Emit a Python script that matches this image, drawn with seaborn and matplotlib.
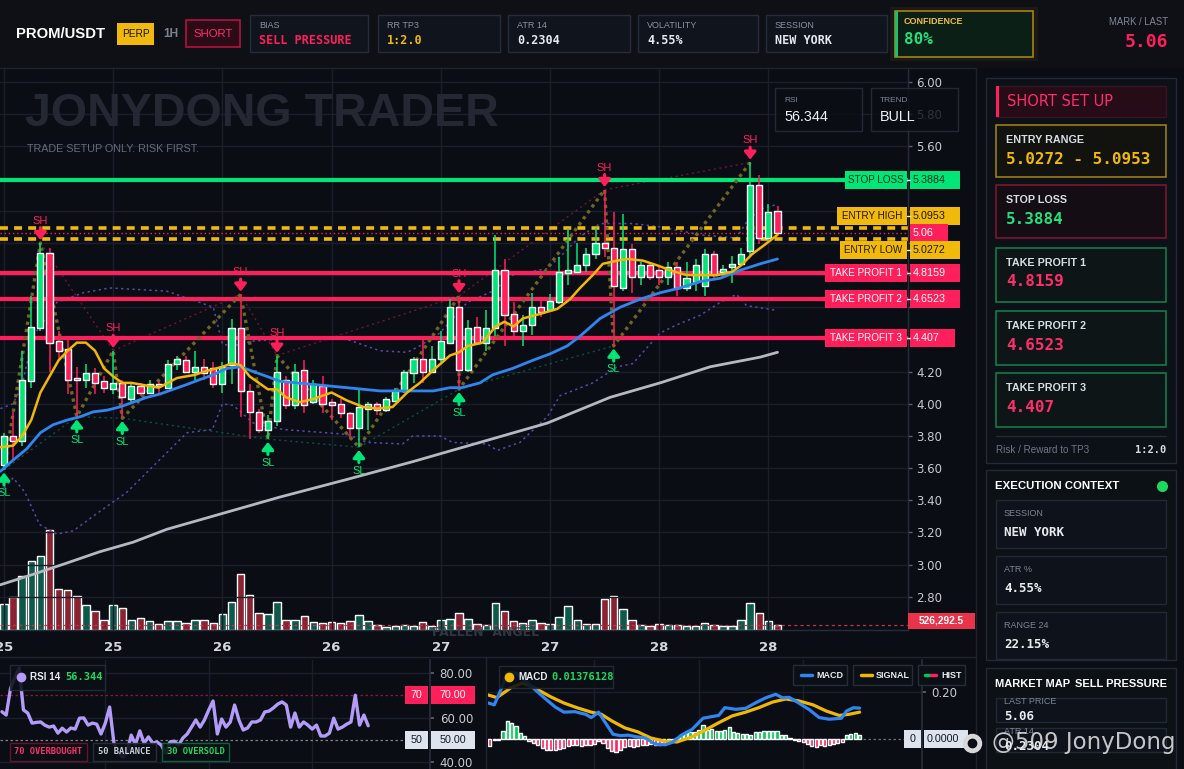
import matplotlib
matplotlib.use("Agg")
import matplotlib.pyplot as plt
from matplotlib import font_manager
from matplotlib.lines import Line2D
from matplotlib.patches import Rectangle
import numpy as np
import pandas as pd
import seaborn as sns

# ---------------- candles (1H) ----------------
opens = [3.62, 3.80, 3.77, 4.14, 4.47, 4.94, 4.39, 4.34, 4.16, 4.15,
         4.19, 4.14, 4.09, 4.13, 4.03, 4.11, 4.07, 4.12, 4.10, 4.25,
         4.27, 4.20, 4.23, 4.22, 4.12, 4.24, 4.47, 4.08, 3.95, 3.84,
         3.89, 4.15, 3.99, 4.21, 4.01, 4.11, 4.01, 4.00, 3.94, 3.85,
         3.97, 4.00, 3.96, 4.02, 4.08, 4.19, 4.28, 4.20, 4.28, 4.38,
         4.60, 4.21, 4.48, 4.38, 4.47, 4.83, 4.56, 4.45, 4.49, 4.60,
         4.58, 4.63, 4.81, 4.82, 4.86, 4.93, 5.00, 4.97, 4.72, 4.96,
         4.79, 4.86, 4.83, 4.79, 4.85, 4.72, 4.76, 4.73, 4.93, 4.82,
         4.85, 4.87, 4.95, 5.36, 5.03, 5.20]
highs = [3.82, 3.95, 4.33, 4.67, 5.00, 4.97, 4.45, 4.40, 4.23, 4.25,
         4.22, 4.17, 4.33, 4.15, 4.13, 4.13, 4.15, 4.14, 4.27, 4.30,
         4.30, 4.33, 4.28, 4.26, 4.26, 4.53, 4.68, 4.12, 3.97, 3.93,
         4.30, 4.17, 4.25, 4.27, 4.15, 4.17, 4.03, 4.03, 3.95, 4.10,
         4.01, 4.01, 4.04, 4.10, 4.21, 4.29, 4.40, 4.36, 4.45, 4.65,
         4.67, 4.52, 4.54, 4.58, 5.05, 4.90, 4.63, 4.55, 4.69, 4.65,
         4.68, 4.91, 5.09, 5.00, 4.97, 5.10, 5.33, 5.19, 5.18, 4.99,
         4.88, 4.88, 4.85, 4.88, 4.88, 4.88, 4.90, 4.96, 4.95, 4.86,
         4.92, 4.97, 5.50, 5.42, 5.24, 5.23]
lows = [3.59, 3.65, 3.74, 4.10, 4.45, 4.20, 4.28, 4.06, 3.92, 4.10,
        4.06, 4.07, 4.06, 3.91, 4.00, 4.05, 4.06, 4.06, 4.09, 4.21,
        4.19, 4.15, 4.15, 4.10, 4.07, 4.12, 3.92, 3.78, 3.82, 3.78,
        3.86, 3.97, 3.97, 3.94, 4.00, 3.94, 3.90, 3.91, 3.79, 3.73,
        3.84, 3.93, 3.95, 4.01, 4.07, 4.13, 4.13, 4.19, 4.26, 4.37,
        4.09, 4.20, 4.37, 4.33, 4.42, 4.36, 4.42, 4.36, 4.43, 4.54,
        4.57, 4.62, 4.74, 4.81, 4.82, 4.90, 4.91, 4.36, 4.70, 4.69,
        4.74, 4.77, 4.74, 4.74, 4.67, 4.70, 4.70, 4.67, 4.78, 4.78,
        4.75, 4.86, 4.92, 4.99, 5.02, 5.05]
closes = [3.80, 3.77, 4.15, 4.48, 4.94, 4.38, 4.33, 4.15, 4.15, 4.19,
          4.13, 4.10, 4.13, 4.04, 4.11, 4.07, 4.12, 4.11, 4.25, 4.28,
          4.20, 4.23, 4.19, 4.12, 4.23, 4.47, 4.08, 3.95, 3.84, 3.89,
          4.20, 3.99, 4.20, 3.99, 4.12, 4.00, 3.99, 3.94, 3.85, 3.98,
          4.00, 3.96, 4.03, 4.08, 4.20, 4.28, 4.20, 4.28, 4.39, 4.60,
          4.21, 4.47, 4.38, 4.47, 4.83, 4.55, 4.45, 4.49, 4.60, 4.57,
          4.64, 4.82, 4.83, 4.86, 4.93, 5.00, 4.97, 4.73, 4.96, 4.79,
          4.86, 4.79, 4.79, 4.85, 4.72, 4.78, 4.86, 4.93, 4.80, 4.84,
          4.87, 4.93, 5.36, 5.03, 5.19, 5.06]
volumes = [2730, 3465, 5670, 7245, 7770, 10500, 4305, 4200, 3570, 2625,
           1995, 1050, 2625, 2310, 1050, 1260, 945, 630, 945, 945,
           735, 1050, 1050, 735, 1680, 2940, 5880, 3675, 1785, 1680,
           2940, 1050, 1050, 1470, 840, 735, 840, 735, 945, 1575,
           945, 525, 315, 420, 525, 420, 840, 420, 1050, 1155,
           1785, 1155, 630, 525, 2835, 1995, 945, 735, 1050, 735,
           630, 1365, 2520, 1050, 630, 630, 3255, 3570, 2205, 1050,
           525, 420, 630, 525, 525, 420, 420, 735, 525, 420,
           420, 1050, 2835, 1785, 945, 526.2925]  # thousands

date_tick_idx = [0, 12, 24, 36, 48, 60, 72, 84]
date_tick_labels = ["25", "25", "26", "26", "27", "27", "28", "28"]

swing_high_idx = [4, 12, 26, 30, 50, 66, 82]
swing_low_idx = [0, 8, 13, 29, 39, 50, 67]

# moving averages / bands, read at sample points (candle index, price)
ema_fast_idx = [-0.4, 1, 2, 3, 4, 5, 6, 7, 8, 9, 10, 11, 12, 13, 14, 16, 17, 18, 19, 21,
                22, 24, 25, 26, 27, 29, 30, 31, 32.5, 34, 36, 37.7, 39.5, 41, 42.7, 44.3, 45.7, 47, 49, 50,
                51, 52.6, 54, 55, 56, 57, 59, 60.8, 62.2, 63.3, 64.7, 65.8, 67.4, 68.5, 70.2, 71.8, 73.2, 75,
                76.8, 78.4, 80, 81, 82.2, 83.4, 85]
ema_fast = [3.73, 3.74, 3.80, 3.90, 4.07, 4.17, 4.27, 4.33, 4.38, 4.38, 4.33, 4.22, 4.17, 4.13, 4.13,
            4.11, 4.10, 4.13, 4.16, 4.18, 4.20, 4.23, 4.25, 4.24, 4.17, 4.09, 4.09, 4.04, 4.01, 4.03,
            4.07, 4.02, 3.98, 3.97, 3.98, 4.07, 4.13, 4.20, 4.30, 4.32, 4.36, 4.38, 4.48, 4.51, 4.48,
            4.53, 4.56, 4.59, 4.65, 4.72, 4.80, 4.87, 4.89, 4.90, 4.89, 4.86, 4.83, 4.80, 4.80, 4.80,
            4.82, 4.86, 4.93, 4.98, 5.05]
ema_slow_idx = [-0.4, 1, 2.5, 4, 5.4, 7, 8.4, 9.8, 11.3, 12.7, 14.2, 15.7, 17.1, 18.6, 20.1, 21.5,
                23, 24.5, 26, 27.4, 28.9, 30.3, 34, 37.7, 41.3, 47.2, 49, 50.3, 52.3, 53.7, 55.9, 58.1,
                60, 61.9, 63.3, 65.5, 67.7, 69.9, 72.1, 74.3, 76.5, 78.7, 80.9, 83.1, 85]
ema_slow = [3.58, 3.65, 3.72, 3.82, 3.87, 3.90, 3.92, 3.95, 3.96, 3.98, 4.01, 4.04, 4.06, 4.09, 4.12,
            4.15, 4.18, 4.22, 4.23, 4.20, 4.17, 4.14, 4.12, 4.10, 4.08, 4.08, 4.10, 4.10, 4.13, 4.18,
            4.22, 4.27, 4.31, 4.36, 4.42, 4.53, 4.60, 4.65, 4.69, 4.72, 4.76, 4.78, 4.83, 4.87, 4.90]
sma_idx = [-0.4, 3.2, 6.9, 10.5, 14.2, 17.9, 30.3, 37.7, 44.9, 52.3, 59.7, 66.6, 72.1, 77.6, 83.1, 85]
sma_slow = [2.875, 2.94, 3.01, 3.08, 3.14, 3.22, 3.42, 3.53, 3.64, 3.76, 3.88, 4.04, 4.13, 4.23, 4.29, 4.32]
upper_idx = [-0.4, 1, 2, 3.2, 5.8, 8.7, 11.6, 17.9, 21.5, 23, 24, 25.2, 27.4, 32.5, 37.7, 41.3, 44.3,
             45.7, 47.9, 50.9, 53.7, 55.9, 59.7, 61.4, 63.3, 65.5, 69.1, 72.1, 76.5, 80.5, 81.6, 83.1, 85]
upper_band = [3.97, 4.00, 4.12, 4.42, 4.63, 4.69, 4.72, 4.70, 4.63, 4.60, 4.37, 4.36, 4.39, 4.41, 4.40,
              4.33, 4.32, 4.36, 4.44, 4.63, 4.70, 4.80, 4.84, 4.93, 5.04, 5.12, 5.12, 5.10, 5.05, 5.03,
              5.13, 5.21, 5.24]
lower_idx = [-0.4, 1, 2.3, 3.9, 5.8, 7.6, 10.5, 13.5, 20.1, 22.9, 24, 25.2, 27.4, 30.7, 37.7, 39.9,
             43.8, 44.9, 47.9, 49.3, 53.1, 54.2, 56.7, 59.7, 61.1, 64.7, 67.4, 69.1, 72.1, 73.9, 76.5,
             78.7, 80.5, 81.6, 85]
lower_band = [3.45, 3.54, 3.45, 3.25, 3.19, 3.21, 3.33, 3.45, 3.82, 3.84, 4.00, 3.99, 3.88, 3.84, 3.81,
              3.76, 3.75, 3.80, 3.80, 3.76, 3.75, 3.71, 3.76, 3.92, 4.05, 4.13, 4.23, 4.25, 4.44, 4.49,
              4.55, 4.63, 4.68, 4.61, 4.58]

# trade levels
stop_loss = 5.3884
entry_high = 5.0953
entry_low = 5.0272
last_price = 5.06
take_profits = [4.8159, 4.6523, 4.407]

# RSI 14
rsi_values = [62.6, 61.1, 73.0, 77.8, 82.2, 63.4, 62.0, 57.5, 57.8, 58.0,
              56.5, 55.7, 56.2, 53.0, 55.2, 53.5, 55.3, 54.8, 59.7, 59.8,
              56.6, 57.5, 57.0, 52.6, 57.5, 64.7, 48.5, 44.5, 42.2, 44.0,
              52.1, 48.0, 54.0, 48.5, 51.3, 48.5, 49.0, 47.6, 44.0, 49.0,
              49.4, 47.6, 50.8, 52.6, 55.7, 58.9, 55.7, 58.9, 63.4, 67.4,
              52.6, 59.3, 55.7, 58.0, 65.6, 58.9, 54.4, 55.3, 58.0, 58.0,
              58.9, 62.5, 62.9, 64.3, 66.0, 67.0, 65.6, 55.7, 62.0, 55.7,
              58.0, 56.6, 54.8, 56.6, 51.7, 51.7, 53.0, 59.7, 54.8, 55.7,
              57.0, 58.0, 70.0, 56.6, 61.1, 56.3]

# MACD
macd_idx = [-0.4, 1, 3, 4, 6, 8, 10, 12.5, 15, 17, 19.5, 22, 23.3, 25, 26.4, 28.3, 30, 31.8, 33.7, 35.7,
            38, 40.3, 42, 44, 46.5, 49, 50.7, 52.6, 54, 56.5, 58.8, 61, 63.4, 65.7, 67.3, 68.8, 71, 73.4,
            75.7, 78, 80.8, 82, 83.6, 85]
macd_line = [0.153, 0.145, 0.23, 0.28, 0.28, 0.25, 0.216, 0.175, 0.136, 0.114, 0.116, 0.105, 0.091,
             0.114, 0.073, 0.020, 0.014, 0.016, 0.009, 0.004, -0.022, -0.025, -0.014, 0.016, 0.041,
             0.088, 0.094, 0.100, 0.133, 0.126, 0.130, 0.153, 0.175, 0.19, 0.175, 0.177, 0.153, 0.125,
             0.091, 0.084, 0.088, 0.119, 0.133, 0.131]
signal_idx = [-0.4, 1.6, 5, 7.5, 10, 14, 17, 20, 23.3, 25.6, 28, 31, 34, 37, 40, 43, 46.5, 49.5, 52.5,
              55.7, 58.8, 61.8, 65, 68, 71, 74.3, 77.3, 80.3, 82.6, 85]
signal_line = [0.187, 0.176, 0.22, 0.238, 0.22, 0.179, 0.153, 0.133, 0.114, 0.105, 0.077, 0.047, 0.030,
               0.004, -0.009, -0.013, 0.009, 0.038, 0.068, 0.098, 0.114, 0.133, 0.157, 0.17, 0.162,
               0.145, 0.119, 0.10, 0.105, 0.114]
hist_values = [-0.031, -0.005, -0.004, 0.033, 0.078, 0.068, 0.054, 0.026, 0.011, -0.007,
               -0.017, -0.024, -0.038, -0.045, -0.045, -0.045, -0.041, -0.038, -0.031, -0.027,
               -0.024, -0.031, -0.024, -0.027, -0.021, -0.007, -0.017, -0.038, -0.052, -0.055,
               -0.045, -0.035, -0.031, -0.035, -0.031, -0.027, -0.024, -0.021, -0.027, -0.027,
               -0.017, -0.013, -0.007, 0.004, 0.016, 0.026, 0.030, 0.030, 0.040, 0.058,
               0.040, 0.044, 0.035, 0.035, 0.040, 0.050, 0.030, 0.024, 0.021, 0.021,
               0.018, 0.028, 0.028, 0.033, 0.035, 0.035, 0.035, 0.016, 0.016, 0.004,
               -0.003, -0.007, -0.013, -0.021, -0.031, -0.035, -0.027, -0.031, -0.024, -0.021,
               -0.017, -0.013, 0.018, 0.021, 0.026, 0.016]

# ---------------- style ----------------
W, H = 1184, 769
BG = "#0a0d14"
HEAD_BG = "#0e1016"
GRID = "#1a202b"
EDGE = "#232a36"
GREEN = "#00e676"
RED = "#ff1f5a"
GOLD = "#f0b90b"
BLUE = "#2f86f0"
LAV = "#b39cf7"
TXT = "#d3d8e0"
MUTED = "#7d8694"

sns.set_theme(style="dark", rc={"axes.facecolor": BG, "figure.facecolor": BG,
                                "grid.color": GRID, "axes.edgecolor": EDGE})
installed = {f.name for f in font_manager.fontManager.ttflist}
if "Liberation Sans Narrow" in installed:
    NARROW = ["Liberation Sans Narrow", "DejaVu Sans"]
    NS = 1.0
else:
    NARROW = ["Liberation Sans", "DejaVu Sans"]
    NS = 0.86
SANS = ["DejaVu Sans"]
MONO = ["DejaVu Sans Mono", "DejaVu Sans"]
plt.rcParams["font.family"] = SANS

df = pd.DataFrame({"open": opens, "high": highs, "low": lows, "close": closes, "volume": volumes})
df["idx"] = np.arange(len(df))
df["up"] = df["close"] >= df["open"]

XLIM = (-0.44, 99.34)

fig = plt.figure(figsize=(W / 100, H / 100), dpi=100)


def frac(x0, y0, x1, y1):
    return [x0 / W, 1 - y1 / H, (x1 - x0) / W, (y1 - y0) / H]


def box(x0, y0, x1, y1, fc, ec="none", lw=1.0, z=2, alpha=1.0):
    fig.add_artist(Rectangle((x0 / W, 1 - y1 / H), (x1 - x0) / W, (y1 - y0) / H,
                             transform=fig.transFigure, facecolor=fc, edgecolor=ec,
                             linewidth=lw, zorder=z, alpha=alpha))


def txt(x, y, s, size, color, ha="left", va="center", weight="normal", family=SANS, z=6, alpha=1.0):
    if family is NARROW:
        size = size * NS
    fig.text(x / W, 1 - y / H, s, fontsize=size, color=color, ha=ha, va=va,
             fontweight=weight, family=family, zorder=z, alpha=alpha)


def seg(x0, y0, x1, y1, color, lw=1.0, ls="-", z=7):
    fig.add_artist(Line2D([x0 / W, x1 / W], [1 - y0 / H, 1 - y1 / H], transform=fig.transFigure,
                          color=color, lw=lw, ls=ls, zorder=z))


def dot(x, y, color, ms=6, z=8):
    fig.add_artist(Line2D([x / W], [1 - y / H], transform=fig.transFigure, marker="o", ms=ms,
                          color=color, mec=color, lw=0, zorder=z))


def ypix(axis, v):
    return H - axis.transData.transform((0, v))[1]


# ---------------- main price chart ----------------
ax = fig.add_axes(frac(0, 68, 908, 630))
axv = ax.twinx()
ax.set_zorder(axv.get_zorder() + 1)
ax.patch.set_visible(False)

axv.bar(df["idx"], df["volume"], width=0.82,
        color=np.where(df["up"], "#0d5a4b", "#8a2232"), zorder=1)
axv.axhline(volumes[-1], color="#c9304a", lw=0.9, ls=(0, (2.5, 2.5)))
axv.set_ylim(0, 59000)
axv.set_yticks([])
axv.tick_params(right=False, labelright=False)
for s in axv.spines.values():
    s.set_visible(False)

line_kw = dict(ax=ax, errorbar=None)
sns.lineplot(x=upper_idx, y=upper_band, color="#5a49a6", lw=1.1, linestyle=(0, (1.5, 2.2)), zorder=2, **line_kw)
sns.lineplot(x=lower_idx, y=lower_band, color="#5a49a6", lw=1.1, linestyle=(0, (1.5, 2.2)), zorder=2, **line_kw)

# swing trendlines
for a, b in zip(swing_high_idx[:-1], swing_high_idx[1:]):
    sns.lineplot(x=[a, b], y=[highs[a], highs[b]], color="#9c1a40", lw=1.0, alpha=0.7,
                 linestyle=(0, (1.5, 2.5)), zorder=2, estimator=None, **line_kw)
for a, b in zip(swing_low_idx[:-1], swing_low_idx[1:]):
    sns.lineplot(x=[a, b], y=[lows[a], lows[b]], color="#0f6e4c", lw=1.0, alpha=0.7,
                 linestyle=(0, (1.5, 2.5)), zorder=2, estimator=None, **line_kw)

# trade levels
ax.axhline(stop_loss, color=GREEN, lw=3.0, zorder=2.5)
for tp in take_profits:
    ax.axhline(tp, color=RED, lw=3.0, zorder=2.5)
ax.axhline(entry_high, color=GOLD, lw=2.6, ls=(0, (2.2, 1.7)), zorder=2.5)
ax.axhline(entry_low, color=GOLD, lw=2.6, ls=(0, (2.2, 1.7)), zorder=2.5)
ax.axhline(last_price, color=RED, lw=1.0, ls=(0, (1, 2)), zorder=2.5)

# zigzag through swing points
pivots = sorted([(i, 0, highs[i]) for i in swing_high_idx] + [(i, 1, lows[i]) for i in swing_low_idx])
sns.lineplot(x=[p[0] for p in pivots], y=[p[2] for p in pivots], sort=False, estimator=None,
             color="#6f6524", lw=2.4, linestyle=(0, (1, 1.2)), zorder=3, **line_kw)

# candles
cc = np.where(df["up"], GREEN, RED)
ax.vlines(df["idx"], df["low"], df["high"], colors=cc, lw=1.1, zorder=4)
body_bottom = np.minimum(df["open"], df["close"])
body_h = np.maximum(np.abs(df["close"] - df["open"]), 0.012)
ax.bar(df["idx"], body_h, bottom=body_bottom, width=0.68, color=cc, zorder=5)

sns.lineplot(x=sma_idx, y=sma_slow, color="#b4b8c0", lw=2.0, zorder=6, **line_kw)
sns.lineplot(x=ema_slow_idx, y=ema_slow, color=BLUE, lw=2.0, zorder=6, **line_kw)
sns.lineplot(x=ema_fast_idx, y=ema_fast, color="#f2b705", lw=1.8, zorder=6, **line_kw)

for i in swing_high_idx:
    ax.annotate("", xy=(i, highs[i]), xytext=(0, 11), textcoords="offset points",
                arrowprops=dict(arrowstyle="-|>,head_length=0.45,head_width=0.35", color=RED,
                                lw=2.2, shrinkA=0, shrinkB=2, mutation_scale=10), zorder=7)
    ax.annotate("SH", xy=(i, highs[i]), xytext=(0, 16), textcoords="offset points", ha="center",
                va="center", color=RED, fontsize=8, family=NARROW, zorder=7)
for i in swing_low_idx:
    ax.annotate("", xy=(i, lows[i]), xytext=(0, -11), textcoords="offset points",
                arrowprops=dict(arrowstyle="-|>,head_length=0.45,head_width=0.35", color=GREEN,
                                lw=2.2, shrinkA=0, shrinkB=2, mutation_scale=10), zorder=7)
    ax.annotate("SL", xy=(i, lows[i]), xytext=(0, -17), textcoords="offset points", ha="center",
                va="center", color=GREEN, fontsize=8, family=NARROW, zorder=7)

ax.set_xlim(*XLIM)
ax.set_ylim(2.594, 6.087)
axv.set_xlim(*XLIM)
ax.set_xticks(date_tick_idx, labels=date_tick_labels)
ax.yaxis.tick_right()
ax.tick_params(axis="y", right=True, left=False, length=3, width=1, color="#5b6270", pad=3,
               labelsize=8.5, labelcolor="#c5cad3")
ax.tick_params(axis="x", bottom=False, length=0, pad=8, labelsize=9.5, labelcolor=TXT)
for lbl in ax.get_xticklabels():
    lbl.set_fontweight("bold")
ax.grid(True, color=GRID, lw=1.0)
ax.set_xlabel("")
ax.set_ylabel("")
for k in ("top", "left"):
    ax.spines[k].set_visible(False)
for k in ("right", "bottom"):
    ax.spines[k].set_color("#262d39")
    ax.spines[k].set_linewidth(1.0)

# level tags on price axis
tags = [("STOP LOSS", "5.3884", stop_loss, 0, 845, 960, GREEN, "#06301b"),
        ("ENTRY HIGH", "5.0953", entry_high, -12, 837, 960, GOLD, "#231900"),
        (None, "5.06", last_price, 0, None, 948, RED, "white"),
        ("ENTRY LOW", "5.0272", entry_low, 11, 840, 960, GOLD, "#231900"),
        ("TAKE PROFIT 1", "4.8159", take_profits[0], 0, 825, 960, RED, "white"),
        ("TAKE PROFIT 2", "4.6523", take_profits[1], 0, 825, 960, RED, "white"),
        ("TAKE PROFIT 3", "4.407", take_profits[2], 0, 825, 955, RED, "white")]
tag_centers = []
for name, val, lvl, off, x0, x1, fc, tc in tags:
    yc = ypix(ax, lvl) + off
    tag_centers.append(yc)
    if name:
        box(x0, yc - 9, 907, yc + 9, fc, z=8)
        txt((x0 + 907) / 2, yc, name, 8.3, tc, ha="center", family=NARROW, z=9)
        seg(907, yc, 910, yc, "#e8ebf0", lw=1, z=9)
    box(910, yc - 9, x1, yc + 9, fc, z=8)
    txt(913, yc, val, 9, tc, family=NARROW, z=9)

# price ticks; labels hidden where a level tag covers them
price_ticks = np.round(np.arange(2.8, 6.001, 0.2), 2)
tick_labels = []
for t in price_ticks:
    covered = any(abs(ypix(ax, t) - yc) < 13 for yc in tag_centers)
    tick_labels.append("" if covered else f"{t:.2f}")
ax.set_yticks(price_ticks, labels=tick_labels)

# volume tag
yv = ypix(axv, volumes[-1]) - 4
box(908, yv - 8, 975, yv + 8, "#e8334a", z=8)
txt(941, yv, "526,292.5", 8.5, "white", ha="center", weight="bold", family=NARROW, z=9)

# watermark texts inside chart
txt(25, 114, "JONYDONG TRADER", 39, "#232832", weight="bold", family=NARROW, z=1.5)
txt(27, 149, "TRADE SETUP ONLY. RISK FIRST.", 9, "#646c7a", family=NARROW, z=1.5)
txt(486, 632, "FALLEN  ANGEL", 9, "#3a404b", ha="center", weight="bold", family=SANS, z=9, alpha=0.8)

for bx0, lab, val in [(775, "RSI", "56.344"), (871, "TREND", "BULL")]:
    box(bx0, 88, bx0 + 87, 131, BG, ec="#2a313d", lw=1, z=8, alpha=0.8)
    txt(bx0 + 9, 100, lab, 7, MUTED, family=NARROW, z=9)
    txt(bx0 + 9, 117, val, 12, "#eef0f4", family=NARROW, z=9)

# ---------------- header ----------------
box(0, 0, W, 68, HEAD_BG, z=1)
seg(0, 68, 976, 68, "#1f2530", lw=1, z=3)
txt(16, 34, "PROM/USDT", 12.5, "white", weight="bold", family=NARROW, z=6)
box(117, 23, 154, 45, GOLD, z=3)
txt(135.5, 34, "PERP", 8.5, "#1b1500", ha="center", family=NARROW)
txt(163, 34, "1H", 10, "#7b8390", weight="bold", family=NARROW)
box(186, 20, 240, 47, "#2a0b16", ec="#b3123f", lw=1.2, z=3)
txt(213, 34, "SHORT", 9.5, "#ff2d6a", ha="center", family=NARROW)

header_cells = [(250, 368, "BIAS", "SELL PRESSURE", RED),
                (378, 500, "RR TP3", "1:2.0", GOLD),
                (508, 630, "ATR 14", "0.2304", "#e6e9ef"),
                (638, 758, "VOLATILITY", "4.55%", "#e6e9ef"),
                (766, 887, "SESSION", "NEW YORK", "#e6e9ef")]
for x0, x1, lab, val, col in header_cells:
    box(x0, 15, x1, 52, "#0f141d", ec="#262d3a", lw=1, z=3)
    txt(x0 + 9, 26, lab, 7.5, "#8a93a2", family=NARROW)
    txt(x0 + 9, 40, val, 8.5, col, weight="bold", family=MONO)

box(890, 7, 1038, 61, GOLD, z=2, alpha=0.06)
box(895, 11, 1033, 57, "#0c1f17", ec="#a8820e", lw=1.2, z=3)
box(895, 11, 898, 57, "#19c26a", z=4)
txt(904, 22, "CONFIDENCE", 7.5, "#f0c040", weight="bold", family=NARROW)
txt(904, 40, "80%", 11.5, "#22e07a", weight="bold", family=MONO)
txt(1168, 22, "MARK / LAST", 8, "#7f8898", ha="right", family=NARROW)
txt(1168, 42, "5.06", 13, "#ff1f5a", ha="right", weight="bold", family=MONO)

# ---------------- right panel ----------------
seg(976, 68, 976, H, "#1c222d", lw=1, z=3)
box(986, 78, 1176, 463, "#0c1017", ec=EDGE, lw=1, z=2)
box(996, 86, 1166, 117, "#250c17", ec="#3a1424", lw=1, z=3)
box(996, 86, 999, 117, RED, z=4)
txt(1007, 101, "SHORT SET UP", 10.5, "#ff2d6a", family=SANS)

cards = [(125, 177, "ENTRY RANGE", "5.0272 - 5.0953", GOLD, "#9c7d12", "#12130f"),
         (185, 238, "STOP LOSS", "5.3884", "#22e07a", "#7c1632", "#140d14"),
         (248, 302, "TAKE PROFIT 1", "4.8159", "#ff2d6a", "#117a48", "#0d1517"),
         (311, 365, "TAKE PROFIT 2", "4.6523", "#ff2d6a", "#117a48", "#0d1517"),
         (373, 427, "TAKE PROFIT 3", "4.407", "#ff2d6a", "#117a48", "#0d1517")]
for y0, y1, lab, val, vc, ec, fc in cards:
    box(996, y0, 1166, y1, fc, ec=ec, lw=1.2, z=3)
    txt(1006, y0 + 15, lab, 9, "#d8dde5", weight="bold", family=NARROW)
    txt(1006, y0 + 34, val, 11.5, vc, weight="bold", family=MONO)
seg(996, 436, 1166, 436, EDGE, lw=1, z=4)
txt(996, 450, "Risk / Reward to TP3", 8.3, "#6f7785", family=NARROW)
txt(1166, 450, "1:2.0", 7.5, "#d8dde5", ha="right", weight="bold", family=MONO)

box(986, 470, 1176, 660, "#0c1116", ec=EDGE, lw=1, z=2)
txt(995, 486, "EXECUTION CONTEXT", 9.5, "white", weight="bold", family=NARROW)
dot(1162, 486, "#1ed760", ms=7)
for y0, y1, lab, val in [(500, 548, "SESSION", "NEW YORK"),
                         (556, 604, "ATR %", "4.55%"),
                         (612, 659, "RANGE 24", "22.15%")]:
    box(996, y0, 1166, y1, "#0e131b", ec="#222936", lw=1, z=3)
    txt(1004, y0 + 13, lab, 7.5, "#7d8694", family=NARROW)
    txt(1004, y0 + 32, val, 9, "#e8ebf0", weight="bold", family=MONO)

box(986, 668, 1176, 775, "#0c1116", ec=EDGE, lw=1, z=2)
txt(995, 684, "MARKET MAP", 9.3, "white", weight="bold", family=NARROW)
txt(1167, 684, "SELL PRESSURE", 9.3, "white", ha="right", weight="bold", family=NARROW)
for y0, y1, lab, val in [(698, 722, "LAST PRICE", "5.06"), (728, 752, "ATR 14", "0.2304")]:
    box(996, y0, 1166, y1, "#0e131b", ec="#222936", lw=1, z=3)
    txt(1004, y0 + 3, lab, 7.5, "#7d8694", family=NARROW)
    txt(1004, y0 + 18, val, 9, "#e8ebf0", weight="bold", family=MONO)

# ---------------- RSI panel ----------------
seg(0, 657, 976, 657, "#1f2530", lw=1, z=3)
seg(486, 657, 486, H, "#1f2530", lw=1, z=3)
axr = fig.add_axes(frac(0, 660, 430, 769))
axr.set_facecolor(BG)
sns.lineplot(x=df["idx"], y=rsi_values, ax=axr, color=LAV, lw=2.4, errorbar=None, zorder=3)
axr.axhline(70, color="#8c1838", lw=0.9, ls=(0, (2, 2)), zorder=2)
axr.axhline(50, color="#7b818c", lw=0.9, ls=(0, (2, 2)), zorder=2)
axr.set_xlim(*XLIM)
axr.set_ylim(36.9, 85.8)
axr.set_yticks([40, 60, 80], labels=["40.00", "60.00", "80.00"])
axr.set_xticks([24, 48, 72], labels=[])
axr.yaxis.tick_right()
axr.tick_params(axis="y", right=True, left=False, length=3, color="#5b6270", pad=4,
                labelsize=8.5, labelcolor="#c5cad3")
axr.tick_params(axis="x", length=0)
axr.grid(True, color=GRID, lw=1.0)
axr.set_xlabel("")
axr.set_ylabel("")
for k in ("top", "left", "bottom"):
    axr.spines[k].set_visible(False)
axr.spines["right"].set_color("#262d39")

for lvl, fc, tc in [(70, RED, "white"), (50, "#dde4ee", "#141922")]:
    yc = ypix(axr, lvl)
    box(405, yc - 9, 428, yc + 9, fc, z=8)
    txt(416.5, yc, str(lvl), 9, tc, ha="center", family=NARROW, z=9)
    box(431, yc - 9, 475, yc + 9, fc, z=8)
    txt(453, yc, f"{lvl}.00", 9, tc, ha="center", family=NARROW, z=9)

box(10, 665, 105, 690, "#0b0f16", ec="#262d39", lw=1, z=7, alpha=0.88)
dot(21, 677, LAV, ms=6, z=9)
txt(30, 677, "RSI 14", 8.3, "#e8ebf0", weight="bold", family=NARROW, z=9)
txt(65, 677, "56.344", 7.5, "#1ed760", weight="bold", family=MONO, z=9)
for x0, x1, s, ec, tc in [(10, 87, "70 OVERBOUGHT", "#6e1530", "#ff2d6a"),
                          (93, 156, "50 BALANCE", "#2c323d", "#c9ced6"),
                          (162, 229, "30 OVERSOLD", "#0f6b3f", "#1ed760")]:
    box(x0, 743, x1, 761, "#0b0f16", ec=ec, lw=1, z=7, alpha=0.9)
    txt((x0 + x1) / 2, 752, s, 6.3, tc, ha="center", weight="bold", family=MONO, z=9)

# ---------------- MACD panel ----------------
axm = fig.add_axes(frac(488, 660, 922, 769))
axm.set_facecolor(BG)
hist_arr = np.array(hist_values)
axm.bar(df["idx"], hist_arr, width=0.72, color=np.where(hist_arr >= 0, "#00c853", "#ff1f5a"), zorder=2)
axm.axhline(0, color="#6b717c", lw=0.9, ls=(0, (2, 2)), zorder=1)
sns.lineplot(x=signal_idx, y=signal_line, ax=axm, color="#f2b705", lw=2.3, errorbar=None, zorder=3)
sns.lineplot(x=macd_idx, y=macd_line, ax=axm, color=BLUE, lw=2.3, errorbar=None, zorder=3)
axm.set_xlim(*XLIM)
axm.set_ylim(-0.128, 0.336)
axm.set_yticks([0.2], labels=["0.20"])
axm.set_xticks([24, 48, 72], labels=[])
axm.yaxis.tick_right()
axm.tick_params(axis="y", right=True, left=False, length=3, color="#5b6270", pad=4,
                labelsize=8.5, labelcolor="#c5cad3")
axm.tick_params(axis="x", length=0)
axm.grid(True, color=GRID, lw=1.0)
axm.set_xlabel("")
axm.set_ylabel("")
for k in ("top", "left", "bottom"):
    axm.spines[k].set_visible(False)
axm.spines["right"].set_color("#262d39")

yz = ypix(axm, 0)
box(904, yz - 9, 921, yz + 9, "#dde4ee", z=8)
txt(912.5, yz, "0", 9, "#141922", ha="center", family=NARROW, z=9)
box(924, yz - 9, 968, yz + 9, "#dde4ee", z=8)
txt(927, yz, "0.0000", 9, "#141922", family=NARROW, z=9)

box(499, 666, 613, 688, "#0b0f16", ec="#262d39", lw=1, z=7, alpha=0.88)
dot(509, 677, "#f2b705", ms=6, z=9)
txt(518, 677, "MACD", 8.3, "#e8ebf0", weight="bold", family=NARROW, z=9)
txt(551, 677, "0.01376128", 7.5, "#1ed760", weight="bold", family=MONO, z=9)
for x0, x1, s, col in [(793, 847, "MACD", BLUE), (853, 912, "SIGNAL", "#f2b705"), (918, 965, "HIST", None)]:
    box(x0, 665, x1, 685, "#0b0f16", ec="#262d39", lw=1, z=7)
    if col:
        seg(x0 + 8, 675, x0 + 19, 675, col, lw=2.5, z=9)
    else:
        seg(x0 + 7, 675, x0 + 12, 675, "#00c853", lw=2.5, z=9)
        seg(x0 + 13, 675, x0 + 18, 675, "#ff1f5a", lw=2.5, z=9)
    txt(x0 + 23, 675, s, 7.5, "#e8ebf0", weight="bold", family=NARROW, z=9)

# ---------------- watermark ----------------
dot(972, 743, "#d8d8d8", ms=13, z=10)
dot(972, 743, BG, ms=6, z=11)
txt(992, 743, "@509 JonyDong", 16.5, "#e6e6e6", family=SANS, z=12, alpha=0.85)

fig.savefig("out.png", dpi=100, facecolor=BG)
